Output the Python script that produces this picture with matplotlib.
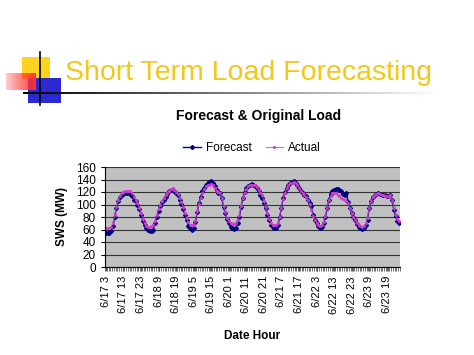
import numpy as np
import matplotlib
matplotlib.use("Agg")
import matplotlib.pyplot as plt
from matplotlib.patches import Rectangle

plt.rcParams['font.family'] = ['Liberation Sans', 'DejaVu Sans']

# hourly load, 6/17 hour 3 through 6/24 hour 2 (one row per calendar day)
forecast = [
    55, 54, 55, 57, 66, 80, 94, 105, 112, 116, 118, 118, 119, 118, 117, 113, 108, 105, 100, 93, 83,
    74, 67, 62, 59, 58, 58, 60, 70, 80, 90, 98, 104, 108, 112, 117, 121, 123, 124, 122, 118, 115, 108, 101, 93,
    84, 76, 66, 62, 60, 62, 72, 88, 102, 112, 121, 127, 132, 135, 136, 137, 134, 129, 123, 119, 119, 110, 96, 86,
    77, 70, 64, 62, 61, 62, 70, 80, 96, 110, 120, 126, 130, 132, 133, 132, 130, 127, 122, 116, 110, 103, 94, 84,
    75, 68, 64, 62, 62, 67, 80, 95, 110, 120, 126, 131, 134, 136, 137, 135, 131, 126, 122, 118, 116, 113, 108, 102,
    98, 84, 76, 70, 66, 63, 64, 70, 80, 94, 108, 117, 122, 124, 125, 125, 123, 121, 117, 115, 119, 104, 95, 86,
    80, 75, 69, 64, 62, 61, 62, 68, 76, 95, 106, 112, 115, 117, 118, 117, 116, 116, 115, 114, 113, 116, 107, 91,
    82, 73, 70,
]
actual = [
    62, 62, 63, 64, 70, 83, 96, 107, 114, 118, 120, 121, 122, 122, 121, 118, 112, 108, 102, 95, 86,
    77, 70, 66, 64, 64, 65, 67, 74, 84, 93, 100, 106, 111, 115, 119, 122, 125, 126, 124, 120, 117, 111, 104, 96,
    87, 79, 72, 68, 67, 68, 74, 89, 101, 111, 119, 125, 129, 131, 132, 133, 131, 127, 122, 120, 119, 111, 98, 88,
    79, 73, 70, 69, 69, 71, 76, 84, 97, 110, 119, 125, 129, 131, 132, 132, 131, 128, 123, 119, 115, 106, 96, 86,
    77, 71, 68, 67, 67, 70, 80, 95, 109, 119, 126, 131, 134, 135, 136, 134, 131, 126, 121, 118, 115, 112, 107, 101,
    92, 82, 76, 71, 68, 66, 67, 72, 82, 95, 107, 114, 118, 119, 118, 116, 113, 111, 109, 108, 106, 102, 94, 86,
    80, 76, 71, 67, 65, 64, 65, 70, 78, 95, 106, 112, 115, 117, 118, 117, 116, 115, 114, 113, 112, 115, 108, 94,
    84, 77, 74,
]
tick_labels = ["6/17 3", "6/17 13", "6/17 23", "6/18 9", "6/18 19", "6/19 5", "6/19 15",
               "6/20 1", "6/20 11", "6/20 21", "6/21 7", "6/21 17", "6/22 3", "6/22 13",
               "6/22 23", "6/23 9", "6/23 19"]
label_step = 10

W, H = 474, 355
fig = plt.figure(figsize=(W / 100, H / 100), dpi=100)

# background layer in pixel coordinates for the slide decoration
bg = fig.add_axes([0, 0, 1, 1], zorder=0)
bg.set_xlim(0, W)
bg.set_ylim(H, 0)
bg.axis("off")
bg.add_patch(Rectangle((22, 57), 28, 22, color="#FFD21F", lw=0))
fade = np.linspace(1, 0, 50)[None, :]
bg.imshow(np.dstack([np.ones_like(fade), 0.2 + 0 * fade, 0.2 + 0 * fade, 0.25 + 0.75 * fade[:, ::-1]]),
          extent=(6, 36, 90, 73), aspect="auto", zorder=2)
bg.add_patch(Rectangle((28, 78), 33, 25, color="#2A2AD0", lw=0, zorder=1))
bg.plot([40, 40], [52, 105], color="black", lw=1.2, zorder=3)
line = np.linspace(0, 1, 200)[None, :]
bg.imshow(np.dstack([line, line, line]), extent=(23, 440, 94, 92), aspect="auto", zorder=3)
bg.text(65, 73, "Short Term Load Forecasting", color="#F2C81A", fontsize=20.5,
        va="center", ha="left")
bg.text(259, 116, "Forecast & Original Load", fontsize=10, fontweight="bold",
        ha="center", va="center")

ax = fig.add_axes([105 / W, 1 - 267 / H, 295 / W, 100 / H], zorder=1)
ax.set_facecolor("#C0C0C0")
x = np.arange(len(forecast))
ax.plot(x, forecast, color="#000080", lw=1, marker="D", ms=2, label="Forecast")
ax.plot(x, actual, color="#D040C8", lw=0.8, marker="s", ms=1.2, label="Actual", alpha=0.8)

ax.set_xlim(-0.5, len(forecast) - 0.5)
ax.set_ylim(0, 160)
ax.set_yticks(range(0, 161, 20))
ax.yaxis.grid(True, color="#333333", lw=0.8)
ax.set_axisbelow(True)
ax.set_xticks(np.arange(0, len(tick_labels) * label_step, label_step))
ax.set_xticklabels(tick_labels, rotation=90, fontsize=8)
ax.set_xticks(np.arange(-0.5, len(forecast), 1), minor=True)
ax.tick_params(axis="x", which="both", length=3, color="#555555")
ax.tick_params(axis="y", labelsize=8.5, length=3)
for s in ["top", "right"]:
    ax.spines[s].set_visible(False)
ax.set_ylabel("SWS (MW)", fontsize=8.5, fontweight="bold", labelpad=6)
ax.set_xlabel("Date Hour", fontsize=8.5, fontweight="bold", labelpad=12)

fig.legend(loc="center", bbox_to_anchor=(252 / W, 1 - 148 / H), ncol=2, frameon=False,
           fontsize=8.5, handlelength=1.5, handletextpad=0.4, columnspacing=1.2)

fig.savefig("out.png", dpi=100)
